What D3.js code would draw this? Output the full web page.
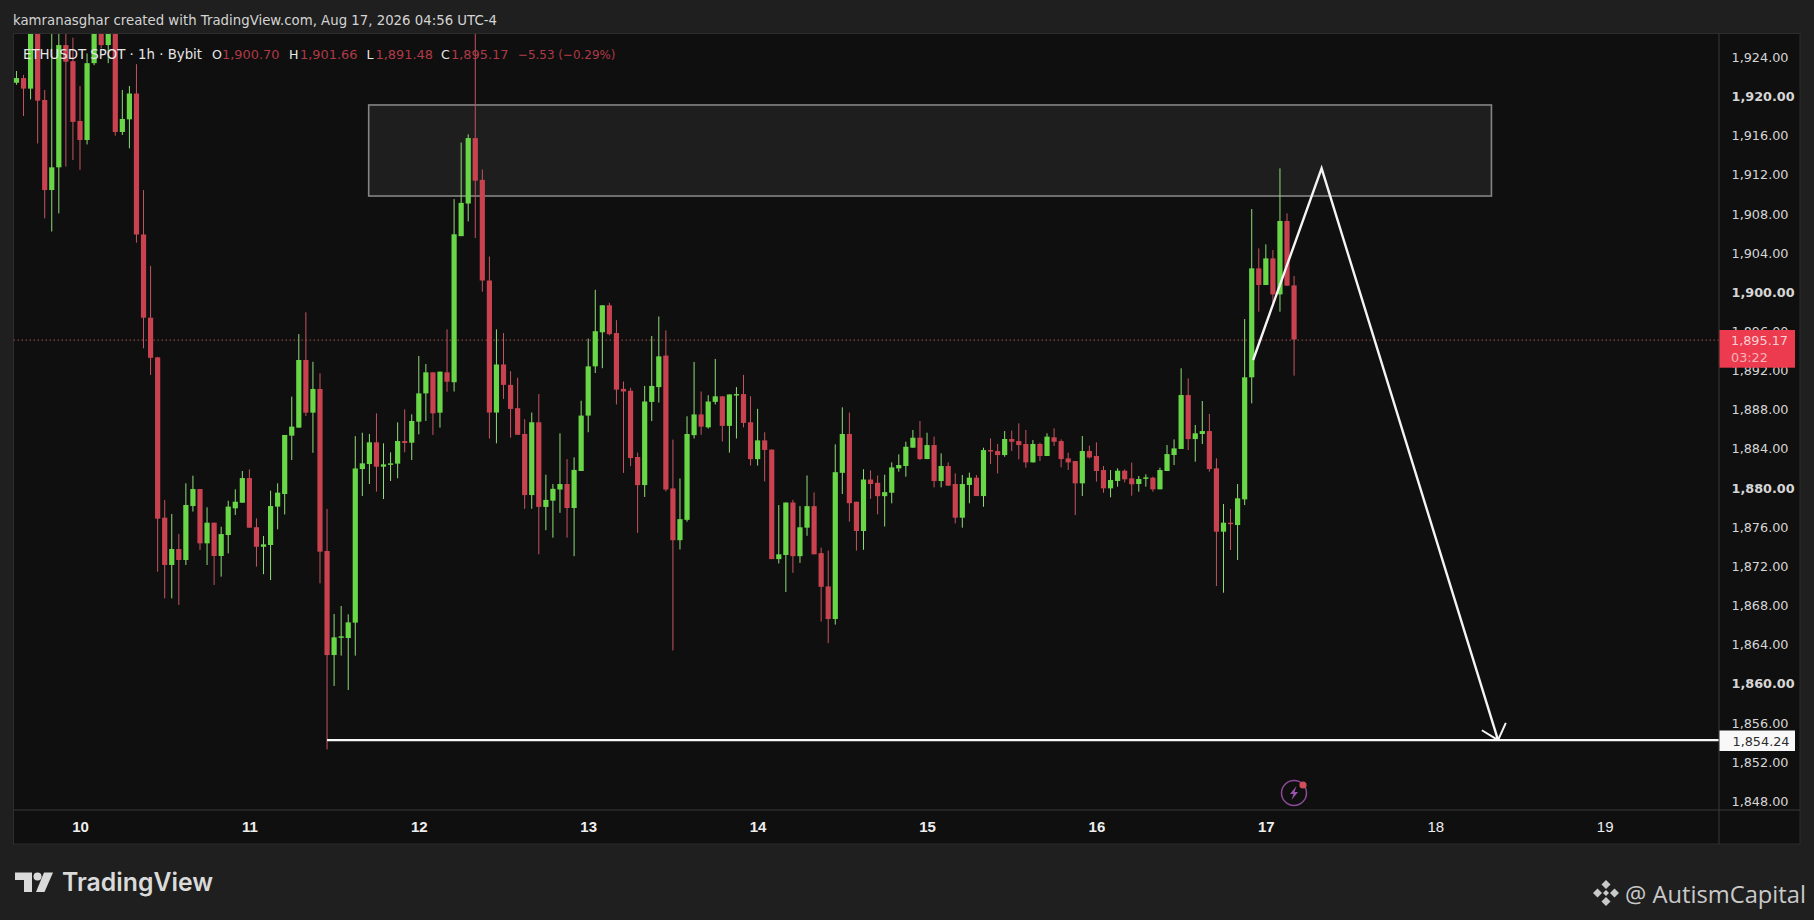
<!DOCTYPE html>
<html>
<head>
<meta charset="utf-8">
<title>ETHUSDT SPOT 1h</title>
<script src="https://cdn.jsdelivr.net/npm/d3@7"></script>
<style>
  body { margin: 0; background: #1f1f1f; }
  svg { display: block; }
  .ui { font-family: "DejaVu Sans", sans-serif; }
  .axis text { font-family: "DejaVu Sans", sans-serif; fill: #d6d6d6; }
</style>
</head>
<body>
<div id="chart"></div>
<script>
// 1: DATA - hourly bars, hours counted from the "10" day tick
const firstHour = -9;
const opens = [
  1921.4, 1921.88, 1920.8, 1927, 1919.64, 1910.44, 1912.76, 1925.25, 1923.6, 1917.5,
  1915.55, 1923.4, 1927, 1925.25, 1927.5, 1916.37, 1917.66, 1920.3, 1905.9, 1897.4,
  1893.35, 1876.97, 1872.14, 1873.77, 1872.65, 1878.16, 1879.9, 1874.35, 1876.46, 1873.06,
  1875.2, 1877.93, 1878.5, 1881.02, 1876.0, 1874.0, 1874.18, 1878.1, 1879.39, 1885.35,
  1886.17, 1893.08, 1887.7, 1890.12, 1873.57, 1862.94, 1864.75, 1864.68, 1866.25, 1881.94,
  1882.45, 1884.67, 1882.18, 1882.46, 1882.49, 1884.8, 1884.63, 1886.78, 1889.67, 1891.82,
  1887.7, 1891.82, 1890.81, 1905.73, 1909.06, 1915.75, 1911.48, 1901.2, 1887.71, 1892.62,
  1890.54, 1888.16, 1885.52, 1879.28, 1886.72, 1878.07, 1878.71, 1879.85, 1880.41, 1877.96,
  1881.74, 1887.4, 1892.43, 1895.91, 1898.67, 1895.83, 1890.13, 1889.94, 1883.17, 1880.3,
  1888.8, 1890.31, 1893.53, 1879.96, 1874.67, 1876.75, 1885.4, 1887.52, 1886.2, 1888.8,
  1889.37, 1886.35, 1889.52, 1889.6, 1886.72, 1882.95, 1884.87, 1883.93, 1872.74, 1873.16,
  1878.52, 1873.04, 1875.95, 1878.15, 1873.35, 1869.95, 1866.62, 1881.55, 1885.52, 1878.6,
  1875.61, 1880.87, 1880.53, 1879.17, 1879.52, 1882.01, 1882.25, 1884.12, 1885.14, 1882.96,
  1884.39, 1880.72, 1882.25, 1880.41, 1876.97, 1880.31, 1881.06, 1879.18, 1883.88, 1883.78,
  1883.37, 1885.01, 1884.8, 1884.5, 1882.62, 1884.5, 1883.27, 1885.18, 1884.8, 1883.03,
  1882.76, 1880.48, 1883.78, 1883.27, 1881.84, 1879.97, 1880.72, 1881.77, 1880.99, 1880.41,
  1881.02, 1881.06, 1879.87, 1881.74, 1883.37, 1883.99, 1889.5, 1885.0, 1885.52, 1885.82,
  1882.01, 1875.54, 1876.46, 1876.22, 1878.84, 1891.31, 1902.44, 1900.74, 1903.46, 1899.78,
  1907.28, 1900.7
];
const highs = [
  1922.6, 1922.2, 1928, 1928, 1920.66, 1928, 1928, 1928, 1926, 1921.07,
  1924.4, 1928, 1928, 1928, 1928, 1920.66, 1921.07, 1923.3, 1910.44, 1902.7,
  1893.4, 1878.78, 1877.35, 1875.3, 1880.48, 1881.26, 1879.9, 1878.03, 1876.46, 1876.05,
  1878.7, 1879.87, 1881.74, 1881.9, 1876.9, 1875.1, 1879.73, 1880.48, 1885.42, 1889.33,
  1895.73, 1897.95, 1892.9, 1891.72, 1877.86, 1867.13, 1867.95, 1867.1, 1885.3, 1885.65,
  1885.52, 1887.63, 1884.57, 1883.65, 1886.71, 1888.04, 1887.53, 1893.49, 1892.67, 1891.82,
  1891.89, 1896.21, 1909.51, 1915.29, 1916.13, 1927, 1912.54, 1903.65, 1896.21, 1895.83,
  1891.94, 1891.26, 1887.03, 1887.71, 1889.6, 1881.36, 1880.41, 1885.59, 1882.95, 1883.13,
  1888.92, 1895.27, 1900.25, 1898.67, 1898.93, 1897.15, 1890.88, 1890.24, 1883.62, 1890.43,
  1895.53, 1897.53, 1896.1, 1884.95, 1880.98, 1887.33, 1892.88, 1889.86, 1889.48, 1893.19,
  1889.37, 1889.56, 1890.31, 1891.56, 1889.37, 1888.09, 1885.7, 1883.93, 1878.26, 1878.52,
  1878.79, 1878.15, 1881.28, 1879.55, 1873.91, 1873.61, 1884.46, 1888.24, 1887.71, 1878.6,
  1881.92, 1881.81, 1881.28, 1881.36, 1882.62, 1883.44, 1884.73, 1885.93, 1886.85, 1885.65,
  1885.25, 1883.54, 1882.62, 1881.5, 1881.33, 1881.57, 1881.33, 1884.12, 1885.07, 1884.5,
  1885.82, 1885.86, 1886.61, 1885.93, 1884.9, 1884.63, 1885.59, 1886.1, 1884.97, 1883.61,
  1882.76, 1885.31, 1884.33, 1884.67, 1882.25, 1881.84, 1882.01, 1881.9, 1882.59, 1881.23,
  1881.4, 1881.16, 1882.08, 1884.39, 1884.97, 1892.23, 1891.2, 1886.44, 1888.89, 1887.56,
  1883.03, 1878.37, 1877.86, 1880.41, 1897.26, 1908.5, 1904.48, 1904.89, 1904.31, 1912.66,
  1908.06, 1901.66
];
const lows = [
  1921.2, 1918.0, 1919.7, 1915.2, 1907.55, 1906.2, 1908.06, 1912.83, 1913.5, 1912.5,
  1915.1, 1923.2, 1924.9, 1923.4, 1916.0, 1916.06, 1914.7, 1905.06, 1894.27, 1891.55,
  1871.46, 1868.73, 1868.73, 1868.05, 1872.14, 1877.6, 1873.67, 1872.14, 1870.1, 1870.95,
  1873.33, 1877.25, 1878.5, 1875.95, 1871.97, 1871.2, 1870.6, 1875.78, 1877.3, 1882.86,
  1886.17, 1887.36, 1883.6, 1870.26, 1853.3, 1859.78, 1862.88, 1859.37, 1862.88, 1879.18,
  1880.41, 1879.63, 1878.88, 1880.72, 1881.0, 1883.65, 1882.86, 1885.48, 1886.85, 1885.42,
  1886.17, 1889.84, 1889.86, 1905.73, 1907.24, 1905.54, 1900.06, 1885.06, 1884.57, 1889.1,
  1885.14, 1885.44, 1877.88, 1877.88, 1873.23, 1875.69, 1874.93, 1877.47, 1874.93, 1873.04,
  1881.74, 1885.7, 1891.75, 1892.24, 1895.6, 1888.54, 1881.55, 1882.23, 1875.42, 1879.09,
  1886.84, 1888.73, 1879.66, 1863.41, 1873.72, 1876.56, 1885.06, 1885.44, 1886.08, 1888.54,
  1884.76, 1883.62, 1885.06, 1886.2, 1882.3, 1882.3, 1880.68, 1872.74, 1872.29, 1869.38,
  1871.34, 1872.36, 1875.12, 1873.23, 1866.36, 1864.16, 1866.05, 1879.39, 1876.56, 1873.61,
  1873.69, 1878.9, 1877.31, 1876.07, 1878.44, 1881.67, 1881.16, 1884.12, 1882.86, 1882.96,
  1880.07, 1880.07, 1880.24, 1876.39, 1875.95, 1878.44, 1879.18, 1878.09, 1882.45, 1881.5,
  1883.2, 1883.78, 1882.93, 1882.08, 1882.62, 1882.76, 1883.27, 1884.3, 1882.11, 1881.84,
  1877.24, 1879.18, 1883.03, 1880.65, 1879.52, 1879.05, 1880.14, 1880.58, 1879.22, 1879.63,
  1880.14, 1879.63, 1879.87, 1881.74, 1882.35, 1883.99, 1883.88, 1882.69, 1884.5, 1881.67,
  1869.99, 1869.31, 1873.67, 1872.65, 1878.26, 1888.65, 1898.01, 1900.74, 1898.87, 1898.01,
  1900.67, 1891.48
];
const closes = [
  1921.88, 1920.8, 1927, 1919.57, 1910.44, 1912.76, 1925.25, 1923.55, 1917.4, 1915.55,
  1923.4, 1927, 1925.25, 1927.5, 1916.37, 1917.7, 1920.3, 1905.9, 1897.4, 1893.3,
  1876.87, 1872.14, 1873.77, 1872.65, 1878.27, 1879.9, 1874.35, 1876.46, 1873.06, 1875.3,
  1878.1, 1878.6, 1881.02, 1875.95, 1874.0, 1874.25, 1878.16, 1879.53, 1885.42, 1886.27,
  1893.08, 1887.7, 1890.12, 1873.5, 1862.94, 1864.75, 1864.85, 1866.28, 1882.0, 1882.52,
  1884.67, 1882.18, 1882.42, 1882.52, 1884.8, 1884.6, 1886.85, 1889.67, 1891.82, 1887.63,
  1891.89, 1890.86, 1905.92, 1909.13, 1915.75, 1911.4, 1901.2, 1887.71, 1892.62, 1890.54,
  1888.08, 1885.44, 1879.28, 1886.72, 1878.07, 1878.79, 1879.92, 1880.41, 1877.96, 1881.85,
  1887.4, 1892.43, 1896.02, 1898.67, 1895.72, 1890.05, 1889.86, 1883.06, 1880.3, 1888.84,
  1890.43, 1893.45, 1879.85, 1874.67, 1876.82, 1885.52, 1887.52, 1886.27, 1888.84, 1889.37,
  1886.35, 1889.56, 1889.6, 1886.65, 1882.95, 1884.87, 1883.89, 1872.74, 1873.23, 1878.52,
  1873.04, 1875.99, 1878.15, 1873.23, 1869.91, 1866.62, 1881.62, 1885.52, 1878.45, 1875.61,
  1880.87, 1880.41, 1879.17, 1879.58, 1882.11, 1882.35, 1884.22, 1885.14, 1882.96, 1884.39,
  1880.72, 1882.25, 1880.24, 1876.97, 1880.41, 1881.06, 1879.18, 1883.88, 1883.82, 1883.37,
  1885.01, 1884.73, 1884.39, 1882.62, 1884.5, 1883.27, 1885.25, 1884.73, 1882.96, 1882.62,
  1880.48, 1883.78, 1883.13, 1881.74, 1879.97, 1880.82, 1881.77, 1880.89, 1880.38, 1880.92,
  1881.09, 1879.87, 1881.84, 1883.47, 1884.05, 1889.5, 1885.0, 1885.59, 1885.82, 1881.94,
  1875.54, 1876.46, 1876.33, 1878.95, 1891.31, 1902.44, 1900.74, 1903.46, 1899.78, 1907.28,
  1900.67, 1895.17
];

const priceTicks = d3.range(1848, 1925, 4);
const dayLabels = [10, 11, 12, 13, 14, 15, 16, 17, 18, 19];
const legendParts = [
  { text: "O", x: 212, red: false }, { text: "1,900.70", x: 222, red: true },
  { text: "H", x: 289, red: false }, { text: "1,901.66", x: 300, red: true },
  { text: "L", x: 366.5, red: false }, { text: "1,891.48", x: 375.5, red: true },
  { text: "C", x: 441, red: false }, { text: "1,895.17", x: 451, red: true },
  { text: "\u22125.53 (\u22120.29%)", x: 518, red: true }
];

// drawings, in chart units (hour, price)
const zoneHours = [40.9, 199.96];
const zonePrices = [1919.13, 1909.83];
const pathHours = [166.2, 175.9, 200.9];
const pathPrices = [1893.08, 1912.66, 1854.24];
const targetHour = 35;
const targetPrice = 1854.24;
const lastPrice = 1895.17;

// 2: SIZES AND SCALES
const W = 1814, H = 920;
const pane = { left: 13.5, right: 1719, top: 34, bottom: 810 };
const frame = { right: 1800, bottom: 844 };

const x = d3.scaleLinear()
  .domain([-9.42, 232.2])
  .range([pane.left, pane.right]);
const y = d3.scaleLinear()
  .domain([1848, 1924])
  .range([801.3, 57.3]);

const bars = opens.map((o, i) => ({
  hour: firstHour + i, open: o, high: highs[i], low: lows[i], close: closes[i]
}));

const green = "#68d646", red = "#c8424f";

const svg = d3.select("#chart").append("svg")
  .attr("width", W)
  .attr("height", H);

// 3: BACKGROUNDS
svg.append("rect").attr("width", W).attr("height", H).attr("fill", "#1f1f1f");
svg.append("rect")
  .attr("x", pane.left).attr("y", pane.top - 0.5)
  .attr("width", frame.right - pane.left).attr("height", frame.bottom - pane.top + 0.5)
  .attr("fill", "#0f0f0f")
  .attr("stroke", "#2d2d2d");
svg.append("clipPath").attr("id", "paneClip").append("rect")
  .attr("x", pane.left).attr("y", pane.top)
  .attr("width", pane.right - pane.left).attr("height", pane.bottom - pane.top);

const plot = svg.append("g").attr("clip-path", "url(#paneClip)");

// 4: ZONE, last price line
plot.append("rect")
  .attr("x", x(zoneHours[0])).attr("y", y(zonePrices[0]))
  .attr("width", x(zoneHours[1]) - x(zoneHours[0]))
  .attr("height", y(zonePrices[1]) - y(zonePrices[0]))
  .attr("fill", "#1e1e1e")
  .attr("stroke", "#858585")
  .attr("stroke-width", 1.6);

plot.append("line")
  .attr("x1", pane.left).attr("x2", pane.right)
  .attr("y1", y(lastPrice) + 0.6).attr("y2", y(lastPrice) + 0.6)
  .attr("stroke", "#a5504f")
  .attr("stroke-width", 1)
  .attr("stroke-dasharray", "1.5 2.5");

// 5: CANDLES
const candles = plot.selectAll(".candle")
  .data(bars)
  .enter()
  .append("g")
  .attr("class", "candle");

candles.append("line")
  .attr("x1", d => x(d.hour)).attr("x2", d => x(d.hour))
  .attr("y1", d => y(d.high)).attr("y2", d => y(d.low))
  .attr("stroke", d => d.close >= d.open ? "#8fdc78" : "#c45560")
  .attr("stroke-width", 1);

candles.append("rect")
  .attr("x", d => x(d.hour) - 2.6)
  .attr("width", 5.2)
  .attr("y", d => y(Math.max(d.open, d.close)))
  .attr("height", d => Math.max(1.5, Math.abs(y(d.open) - y(d.close))))
  .attr("fill", d => d.close >= d.open ? green : red);

// 6: WHITE DRAWINGS
const pathPoints = pathHours.map((h, i) => [x(h), y(pathPrices[i])]);
plot.append("path")
  .attr("d", d3.line()(pathPoints))
  .attr("fill", "none")
  .attr("stroke", "#f4f4f4")
  .attr("stroke-width", 2.4)
  .attr("stroke-linejoin", "miter");

// arrow head, taken from the direction of the last leg
const tip = pathPoints[2], tail = pathPoints[1];
const angle = Math.atan2(tail[1] - tip[1], tail[0] - tip[0]);
[-0.72, 0.72].forEach(a => {
  plot.append("line")
    .attr("x1", tip[0]).attr("y1", tip[1])
    .attr("x2", tip[0] + 19 * Math.cos(angle + a))
    .attr("y2", tip[1] + 19 * Math.sin(angle + a))
    .attr("stroke", "#f4f4f4")
    .attr("stroke-width", 2);
});

plot.append("line")
  .attr("x1", x(targetHour)).attr("x2", pane.right)
  .attr("y1", y(targetPrice)).attr("y2", y(targetPrice))
  .attr("stroke", "#f8f8f8")
  .attr("stroke-width", 2.2);

// 7: AXES
svg.append("line")
  .attr("x1", pane.right).attr("x2", pane.right)
  .attr("y1", pane.top).attr("y2", frame.bottom)
  .attr("stroke", "#3a3a3a");
svg.append("line")
  .attr("x1", pane.left).attr("x2", frame.right)
  .attr("y1", pane.bottom).attr("y2", pane.bottom)
  .attr("stroke", "#3a3a3a");

const yAxis = svg.append("g")
  .attr("class", "axis")
  .attr("transform", `translate(1731.5,0)`)
  .call(d3.axisRight(y)
    .tickValues(priceTicks)
    .tickFormat(d3.format(",.2f"))
    .tickSize(0)
    .tickPadding(0));
yAxis.select(".domain").remove();
yAxis.selectAll(".tick text")
  .style("font-size", "12.8px")
  .style("font-weight", d => d % 20 === 0 ? "bold" : "normal");

const xAxis = svg.append("g")
  .attr("class", "axis")
  .attr("transform", `translate(0,${pane.bottom})`)
  .call(d3.axisBottom(x)
    .tickValues(dayLabels.map(d => (d - 10) * 24))
    .tickFormat(h => dayLabels[h / 24])
    .tickSize(0)
    .tickPadding(11));
xAxis.select(".domain").remove();
xAxis.selectAll(".tick text")
  .style("font-family", "'Liberation Sans', sans-serif")
  .style("font-size", "15px")
  .style("font-weight", h => h <= 168 ? "bold" : "normal")
  .style("fill", "#eeeeee");

// 8: PRICE TAGS
svg.append("rect")
  .attr("x", 1719.5).attr("y", 330).attr("width", 75.5).attr("height", 37.7)
  .attr("fill", "#ec3b4e");
svg.append("text")
  .attr("class", "ui").attr("x", 1731).attr("y", 344.5)
  .style("font-size", "12.8px").attr("fill", "#fad0d4")
  .text("1,895.17");
svg.append("text")
  .attr("class", "ui").attr("x", 1731).attr("y", 361.5)
  .style("font-size", "12.8px").attr("fill", "#f8b4bb")
  .text("03:22");

svg.append("rect")
  .attr("x", 1719.5).attr("y", 730.5).attr("width", 75.5).attr("height", 20.5)
  .attr("fill", "#f8f8f8");
svg.append("text")
  .attr("class", "ui").attr("x", 1732.5).attr("y", 745.5)
  .style("font-size", "12.8px").attr("fill", "#2b2b2b")
  .text("1,854.24");

// 9: TEXT OVERLAYS
svg.append("text")
  .attr("class", "ui")
  .attr("x", 13).attr("y", 24.5)
  .attr("textLength", 484).attr("lengthAdjust", "spacingAndGlyphs")
  .style("font-size", "13.5px").attr("fill", "#d4d4d4")
  .text("kamranasghar created with TradingView.com, Aug 17, 2026 04:56 UTC-4");

svg.append("text")
  .attr("class", "ui")
  .attr("x", 23).attr("y", 58.5)
  .attr("textLength", 179).attr("lengthAdjust", "spacingAndGlyphs")
  .style("font-size", "13.5px").attr("fill", "#e6e6e6")
  .text("ETHUSDT SPOT \u00b7 1h \u00b7 Bybit");

svg.selectAll(".legendPart")
  .data(legendParts)
  .enter()
  .append("text")
  .attr("class", "ui legendPart")
  .attr("x", d => d.x).attr("y", 58.5)
  .style("font-size", "12.6px")
  .attr("textLength", d => d.red ? (d.text.length > 8 ? 97.5 : 57.5) : null)
  .attr("lengthAdjust", "spacingAndGlyphs")
  .attr("fill", d => d.red ? "#b03a47" : "#e6e6e6")
  .text(d => d.text);

// 10: ALERT ICON
const icon = svg.append("g").attr("transform", "translate(1294,793)");
icon.append("circle").attr("r", 12.5).attr("fill", "none").attr("stroke", "#8c4a98").attr("stroke-width", 1.5);
icon.append("path").attr("d", "M2.5,-7 L-4,1 L-0.5,1 L-2.5,7 L4,-1 L0.5,-1 Z").attr("fill", "#9a55a8");
icon.append("circle").attr("cx", 9).attr("cy", -8).attr("r", 3.6).attr("fill", "#cf4f5b");

// 11: FOOTER - logo and watermark
const logo = svg.append("g").attr("fill", "#dadada");
logo.append("path").attr("d", "M15,872.5 H32 V892 H24 V880 H15 Z");
logo.append("circle").attr("cx", 37.5).attr("cy", 876.5).attr("r", 4);
logo.append("path").attr("d", "M44,872.5 H53 L44.5,892 H36 Z");
svg.append("text")
  .attr("x", 62).attr("y", 891)
  .attr("textLength", 151).attr("lengthAdjust", "spacingAndGlyphs")
  .style("font-family", "Inter, sans-serif")
  .style("font-size", "25px").style("font-weight", 600)
  .attr("fill", "#dadada")
  .text("TradingView");

const binance = svg.append("g").attr("transform", "translate(1606,893)").attr("fill", "#c9c9c9");
[[0, -8.5, 4.5], [-8.5, 0, 4.5], [8.5, 0, 4.5], [0, 8.5, 4.5], [0, 0, 3]].forEach(p => {
  binance.append("path")
    .attr("d", `M${p[0]},${p[1] - p[2]} L${p[0] + p[2]},${p[1]} L${p[0]},${p[1] + p[2]} L${p[0] - p[2]},${p[1]} Z`);
});
svg.append("text")
  .attr("x", 1625).attr("y", 902.5)
  .attr("textLength", 181).attr("lengthAdjust", "spacingAndGlyphs")
  .style("font-family", "'Open Sans', sans-serif")
  .style("font-size", "24.5px")
  .attr("fill", "#c9c9c9")
  .text("@ AutismCapital");
</script>
</body>
</html>
